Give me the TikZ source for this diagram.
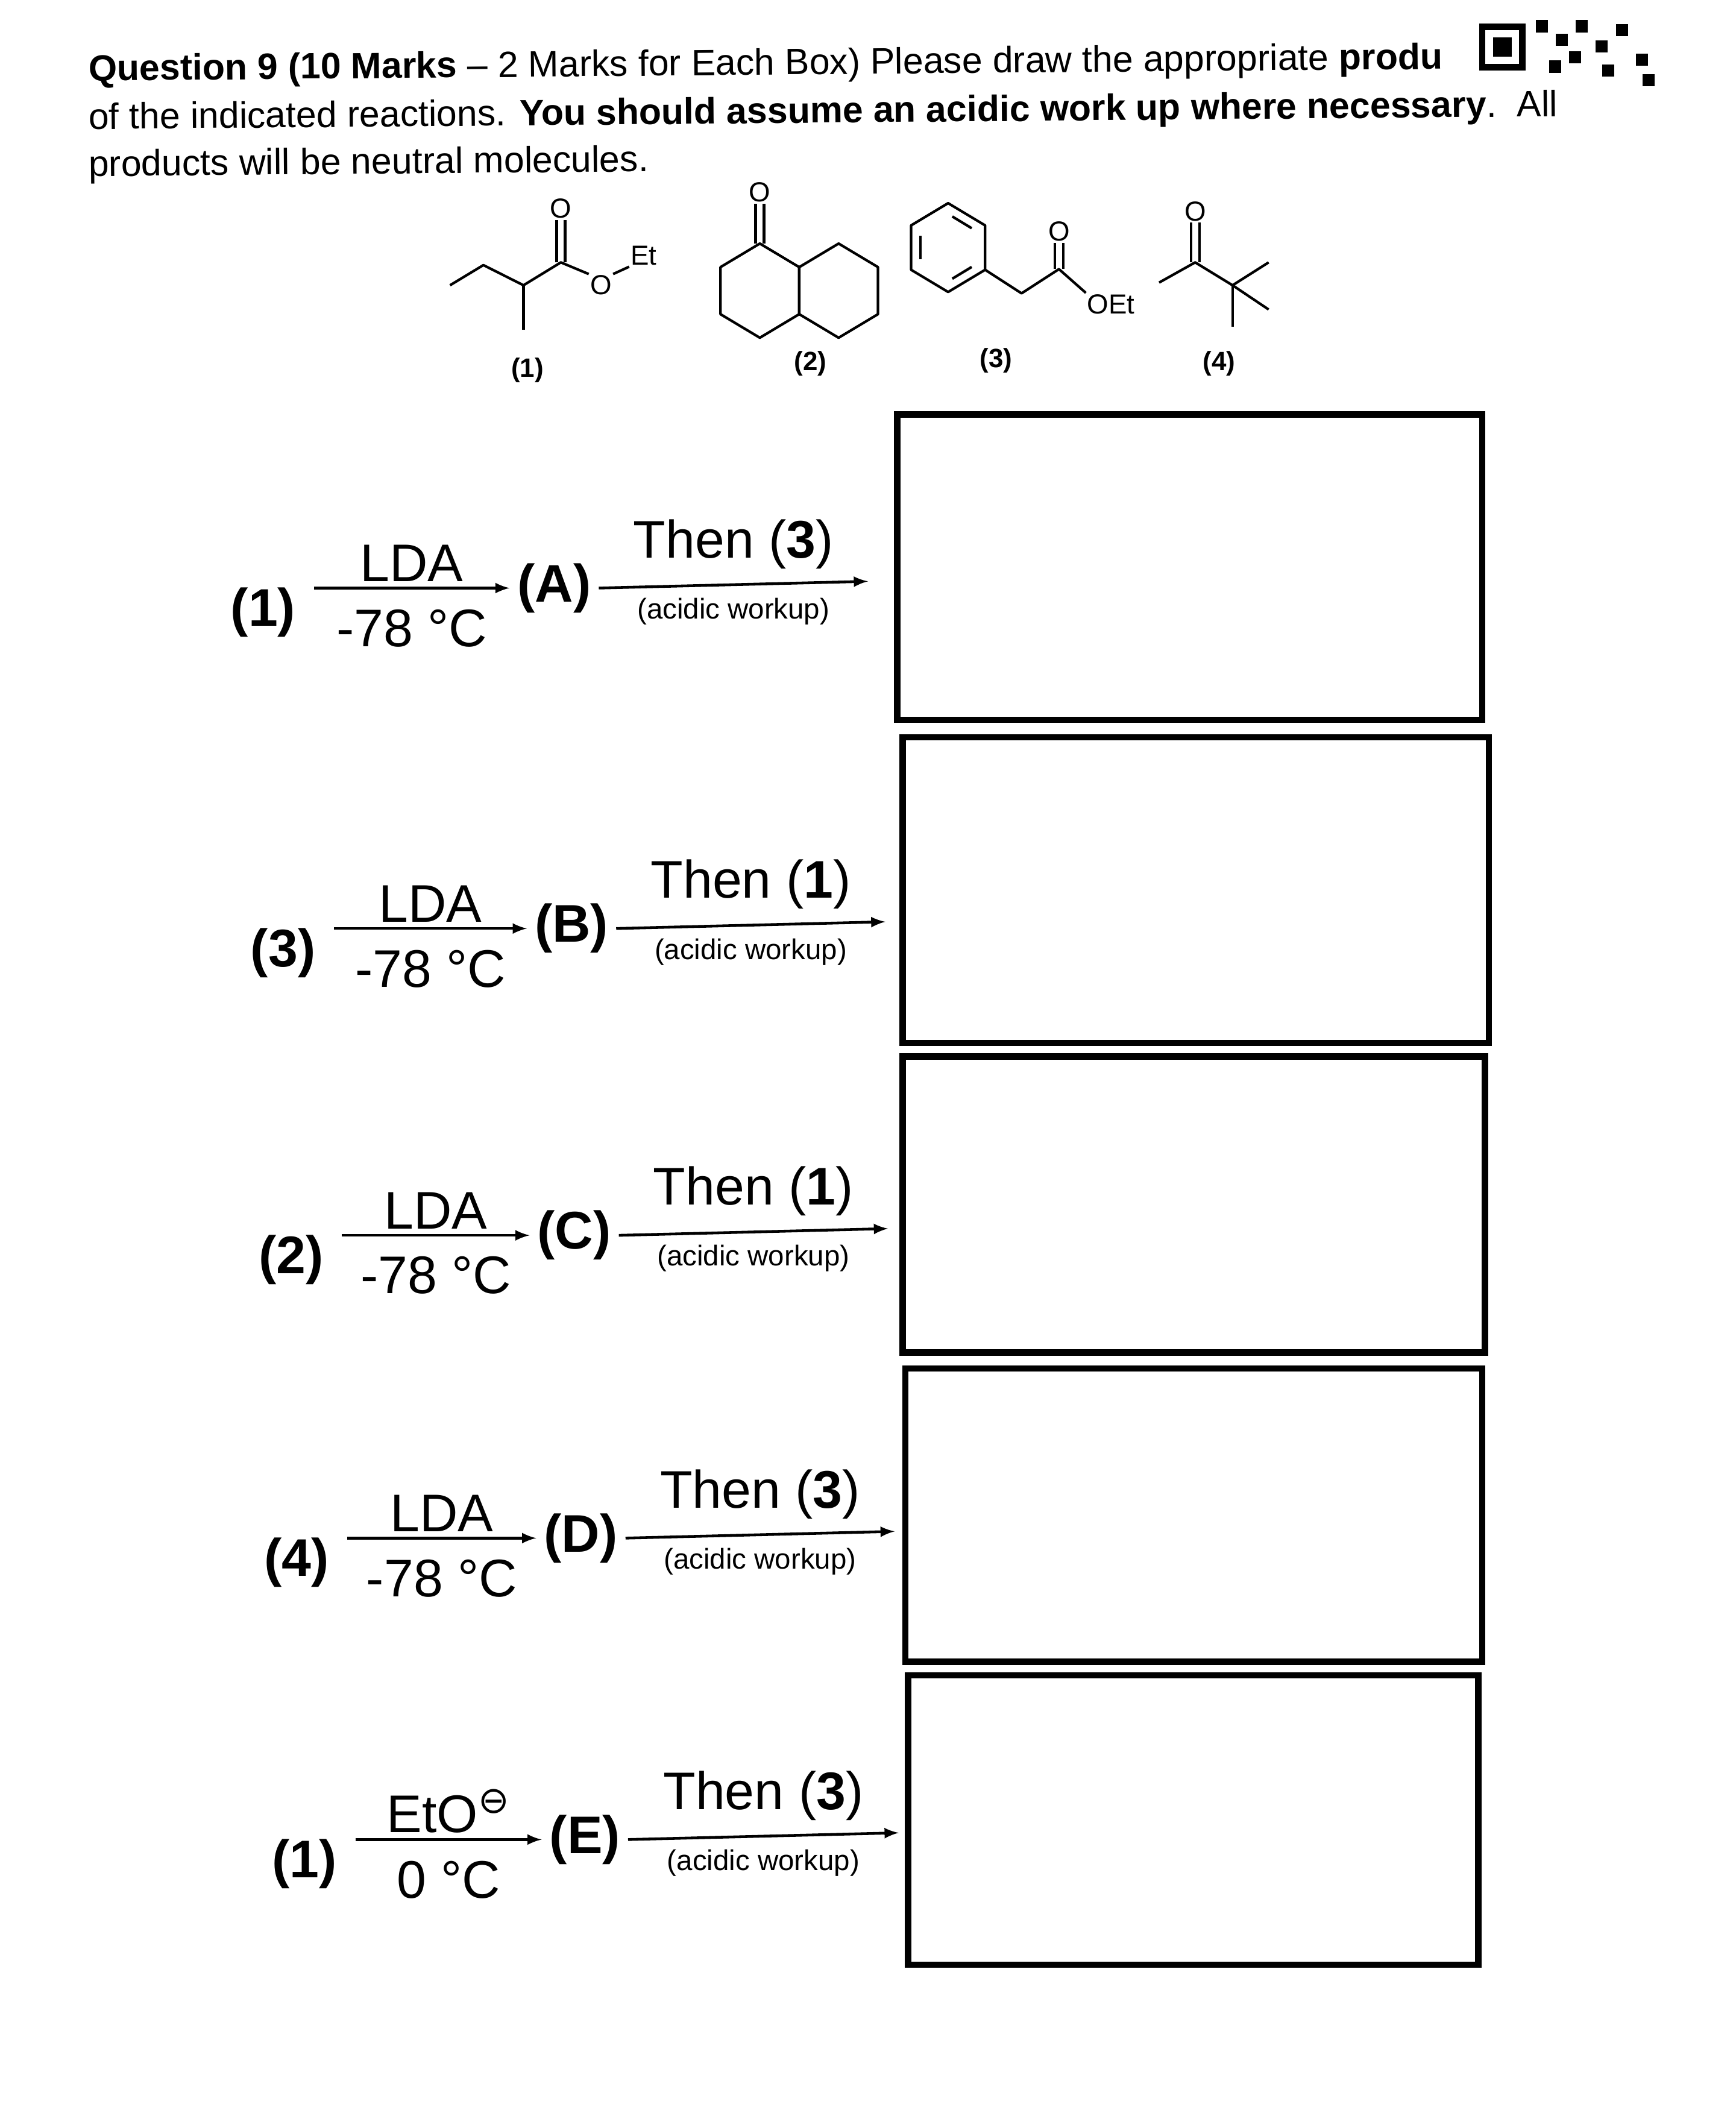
\documentclass[tikz,border=0pt]{standalone}
\usepackage{fontspec}
\setmainfont{Liberation Sans}
\usetikzlibrary{calc}
\begin{document}
\begin{tikzpicture}[x=0.02215cm,y=-0.02232cm,
  ttl/.style={anchor=west,font=\fontsize{17.3}{19}\selectfont,inner sep=0},
  big/.style={font=\fontsize{25}{27}\selectfont,inner sep=1pt},
  bigb/.style={font=\bfseries\fontsize{25}{27}\selectfont,inner sep=1pt},
  small/.style={font=\fontsize{13.5}{15}\selectfont,inner sep=1pt},
  lab/.style={font=\bfseries\fontsize{12.5}{14}\selectfont,inner sep=0},
  atom/.style={font=\fontsize{13}{14}\selectfont,inner sep=0.5pt},
  bond/.style={line width=1.2pt,line join=round},
  rxn/.style={line width=1.3pt,-latex},
  ansbox/.style={draw,line width=3pt}]
\useasboundingbox (0,0) rectangle (1300,1568);
\fill[white] (0,0) rectangle (1300,1568);
% header
\node[ttl,rotate=0.5] (t1) at (66,53) {\textbf{Question 9 (10 Marks} -- 2 Marks for Each Box) Please draw the appropriate \textbf{produ}};
\node[ttl,rotate=0.5] (t2) at (66,89) {of the indicated reactions. \textbf{You should assume an acidic work up where necessary}.\ \ All};
\node[ttl,rotate=0.5] (t3) at (66,124) {products will be neutral molecules.};
% QR fragment
\draw[line width=3pt] (1110,20) rectangle (1140,50);
\fill (1118,28) rectangle (1132,42);
\foreach \a/\b in {1150/15,1165/25,1180/15,1195/30,1210/18,1225/40,1160/45,1200/48,1230/55,1175/38}
  \fill (\a,\b) rectangle ++(9,9);
% molecule 1
\coordinate (m1a) at (337,212); \coordinate (m1b) at (362,197); \coordinate (m1c) at (392,212);
\coordinate (m1d) at (392,245); \coordinate (m1e) at (420,195);
\node[atom] (m1o) at (420,155) {O};
\node[atom] (m1o2) at (450,212) {O};
\node[atom] (m1et) at (482,190) {Et};
\draw[bond] (m1a)--(m1b)--(m1c)--(m1e)--(m1o2.north west);
\draw[bond] (m1c)--(m1d);
\draw[bond] ([xshift=-2pt]m1e)--([xshift=-2pt]m1o.south);
\draw[bond] ([xshift=2pt]m1e)--([xshift=2pt]m1o.south);
\draw[bond] (m1o2.north east)--(m1et.south west);
\node[lab] (l1) at (395,275) {(1)};
% molecule 2 decalone
\foreach \i/\ang in {1/90,2/150,3/210,4/270,5/330,6/30}
  {\coordinate (L\i) at ($(569,216)+(\ang:34 and -35)$);
   \coordinate (R\i) at ($(628,216)+(\ang:34 and -35)$);}
\draw[bond] (L1)--(L2)--(L3)--(L4)--(L5)--(L6)--cycle;
\draw[bond] (R1)--(R2)--(R3)--(R4)--(R5)--(R6)--cycle;
\node[atom] (m2o) at (569,143) {O};
\draw[bond] ([xshift=-2pt]L1)--([xshift=-2pt]m2o.south);
\draw[bond] ([xshift=2pt]L1)--([xshift=2pt]m2o.south);
\node[lab] (l2) at (607,270) {(2)};
% molecule 3
\foreach \i/\ang in {1/90,2/150,3/210,4/270,5/330,6/30}
  {\coordinate (B\i) at ($(710,184)+(\ang:32 and -33)$);
   \coordinate (b\i) at ($(710,184)+(\ang:24 and -25)$);}
\draw[bond] (B1)--(B2)--(B3)--(B4)--(B5)--(B6)--cycle;
\draw[bond] ($(b1)!0.15!(b6)$)--($(b1)!0.85!(b6)$);
\draw[bond] ($(b5)!0.15!(b4)$)--($(b5)!0.85!(b4)$);
\draw[bond] ($(b3)!0.15!(b2)$)--($(b3)!0.85!(b2)$);
\coordinate (m3a) at (765,218); \coordinate (m3c) at (793,200);
\node[atom] (m3o) at (793,172) {O};
\node[atom] (m3oet) at (832,226) {OEt};
\draw[bond] (B5)--(m3a)--(m3c)--(m3oet.north west);
\draw[bond] ([xshift=-2pt]m3c)--([xshift=-2pt]m3o.south);
\draw[bond] ([xshift=2pt]m3c)--([xshift=2pt]m3o.south);
\node[lab] (l3) at (746,268) {(3)};
% molecule 4
\coordinate (m4c) at (895,195); \coordinate (m4m) at (868,210);
\coordinate (m4t) at (923,212); \coordinate (m4x) at (950,195);
\coordinate (m4y) at (950,230); \coordinate (m4z) at (923,243);
\node[atom] (m4o) at (895,157) {O};
\draw[bond] (m4m)--(m4c)--(m4t)--(m4x);
\draw[bond] (m4t)--(m4y); \draw[bond] (m4t)--(m4z);
\draw[bond] ([xshift=-2pt]m4c)--([xshift=-2pt]m4o.south);
\draw[bond] ([xshift=2pt]m4c)--([xshift=2pt]m4o.south);
\node[lab] (l4) at (913,270) {(4)};
% boxes
\draw[ansbox] (672,308) rectangle (1110,535);
\draw[ansbox] (676,548) rectangle (1115,775);
\draw[ansbox] (676,785) rectangle (1112,1005);
\draw[ansbox] (678,1017) rectangle (1110,1235);
\draw[ansbox] (680,1245) rectangle (1107,1460);
% reactions
\foreach \n/\y/\xs/\s/\mx/\re/\tp/\bt in {
  A/437/197/1/415/3/LDA/-78 °C,
  B/690/212/3/428/1/LDA/-78 °C,
  C/918/218/2/430/1/LDA/-78 °C,
  D/1143/222/4/435/3/LDA/-78 °C,
  E/1367/228/1/438/3/{EtO\textsuperscript{\fontspec{DejaVu Sans}⊖}}/0 °C}{
  \node[bigb] (s\n) at (\xs,\y+18) {(\s)};
  \node[bigb] (i\n) at (\mx,\y) {(\n)};
  \coordinate (a\n) at ($(s\n.east)+(12,-18)$);
  \coordinate (z\n) at ($(i\n.west)+(-4,0)$);
  \coordinate (p\n) at ($(i\n.east)+(4,0)$);
  \coordinate (e\n) at (\mx+235,\y-5);
  \draw[rxn] (a\n) -- (z\n);
  \node[big,anchor=south] (u\n) at ($(a\n)!0.5!(z\n)+(0,-3)$) {\tp};
  \node[big,anchor=north] (d\n) at ($(a\n)!0.5!(z\n)+(0,14)$) {\bt};
  \draw[rxn] (p\n) -- (e\n);
  \node[big,anchor=south] (v\n) at ($(p\n)!0.5!(e\n)+(0,-10)$) {Then (\textbf{\re})};
  \node[small,anchor=north] (w\n) at ($(p\n)!0.5!(e\n)+(0,8)$) {(acidic workup)};
}
\end{tikzpicture}
\end{document}
